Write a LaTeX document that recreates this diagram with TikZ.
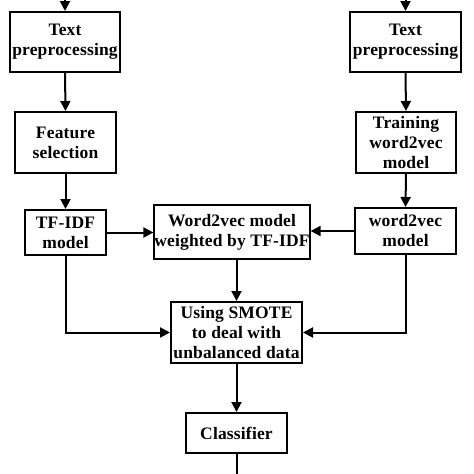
\documentclass[tikz,border=0pt]{standalone}
\usepackage{fontspec}
\setmainfont{Liberation Serif}[LetterSpace=1]
\usetikzlibrary{arrows.meta}
\begin{document}
\begin{tikzpicture}[x=1pt,y=-1pt,
  box/.style={draw,line width=2pt,align=center,inner sep=0pt,
    font=\fontsize{17.5}{20}\selectfont\bfseries},
  arr/.style={line width=2pt,-{Triangle[length=10pt,width=10pt]}},
  ln/.style={line width=2pt}]
\useasboundingbox (0,0) rectangle (474,474);
\node[box,minimum width=110pt,minimum height=60pt] (tp1) at (65,42) {Text\\preprocessing};
\node[box,minimum width=111pt,minimum height=60pt] (tp2) at (405.5,42) {Text\\preprocessing};
\node[box,minimum width=101pt,minimum height=61pt] (fs) at (65.5,142.5) {Feature\\selection};
\node[box,minimum width=100pt,minimum height=61pt] (tw) at (406,142.5) {Training\\word2vec\\model};
\node[box,minimum width=81pt,minimum height=45pt] (tfidf) at (65.5,232.5) {TF-IDF\\model};
\node[box,minimum width=150pt,minimum height=54pt] (w2vw) at (232,232) {Word2vec model\\weighted by TF-IDF};
\node[box,minimum width=101pt,minimum height=46pt] (w2v) at (405.5,231) {word2vec\\model};
\node[box,minimum width=131pt,minimum height=61pt] (smote) at (236.5,332.5) {Using SMOTE\\to deal with\\unbalanced data};
\node[box,minimum width=101pt,minimum height=40pt] (cls) at (236.5,433) {Classifier};
\coordinate (in1) at (65,0);
\coordinate (in2) at (405.5,0);
\coordinate (out) at (236.5,474);
\draw[arr] (in1) -- (tp1.north);
\draw[arr] (in2) -- (tp2.north);
\draw[arr] (tp1.south) -- (fs.north);
\draw[arr] (tp2.south) -- (tw.north);
\draw[arr] (fs.south) -- (tfidf.north);
\draw[arr] (tw.south) -- (w2v.north);
\draw[arr] (tfidf.east) -- (tfidf.east -| w2vw.west);
\draw[arr] (w2v.west) -- (w2v.west -| w2vw.east);
\draw[arr] (w2vw.south -| smote.north) -- (smote.north);
\draw[arr] (tfidf.south) |- (smote.west);
\draw[arr] (w2v.south) |- (smote.east);
\draw[arr] (smote.south) -- (cls.north);
\draw[ln] (cls.south) -- (out);
\end{tikzpicture}
\end{document}
